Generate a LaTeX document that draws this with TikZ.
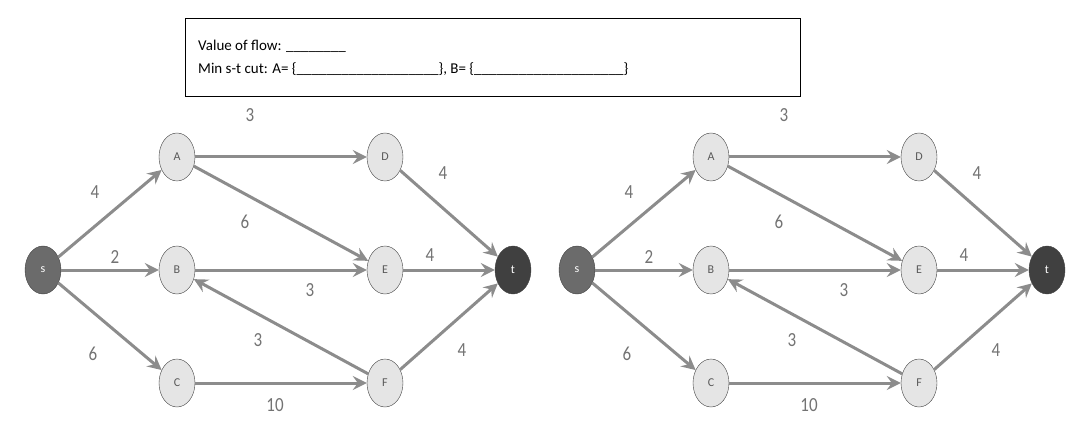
\documentclass[tikz,border=0pt]{standalone}
\usepackage{fontspec}
\setmainfont{Carlito}
\usetikzlibrary{arrows.meta,shapes.geometric}
\begin{document}
\begin{tikzpicture}[x=1pt,y=-1pt,
  nd/.style={ellipse,draw=black!75,fill=black!10,minimum width=36pt,minimum height=48pt,inner sep=0pt,font=\fontsize{12}{14}\selectfont\color{black!65}},
  src/.style={nd,fill=black!58,text=white},
  snk/.style={nd,fill=black!75,text=white},
  ed/.style={draw=black!45,line width=3pt,-{Stealth[length=14pt,width=14pt,inset=5pt]}},
  lb/.style={font=\fontsize{20}{22}\selectfont,text=black!55,xscale=0.85}]
\useasboundingbox (0,0) rectangle (1088,441);
\node[draw=black,line width=0.8pt,minimum width=615pt,minimum height=78pt,anchor=north west,inner sep=0pt] (box) at (185,18) {};
\node[anchor=west,align=left,font=\fontsize{15}{23}\selectfont,inner sep=0pt] (txt) at (198,58) {Value of flow: \_\_\_\_\_\_\_\_\\Min s-t cut: A= \{\_\_\_\_\_\_\_\_\_\_\_\_\_\_\_\_\_\_\_\}, B= \{\_\_\_\_\_\_\_\_\_\_\_\_\_\_\_\_\_\_\_\_\}};
\foreach \dx/\p in {0/l,534/r}{
\begin{scope}[xshift=\dx]
\node[src] (\p s) at (43,270) {s};
\node[nd] (\p A) at (177,157) {A};
\node[nd] (\p D) at (385,157) {D};
\node[nd] (\p B) at (177,270) {B};
\node[nd] (\p E) at (385,270) {E};
\node[nd] (\p C) at (177,383) {C};
\node[nd] (\p F) at (385,383) {F};
\node[snk] (\p t) at (513,270) {t};
\draw[ed] (\p s) -- (\p A);
\draw[ed] (\p s) -- (\p B);
\draw[ed] (\p s) -- (\p C);
\draw[ed] (\p A) -- (\p D);
\draw[ed] (\p A) -- (\p E);
\draw[ed] (\p B) -- (\p E);
\draw[ed] (\p F) -- (\p B);
\draw[ed] (\p C) -- (\p F);
\draw[ed] (\p D) -- (\p t);
\draw[ed] (\p E) -- (\p t);
\draw[ed] (\p F) -- (\p t);
\node[lb] (\p l1) at (250,115) {3};
\node[lb] (\p l2) at (443,173) {4};
\node[lb] (\p l3) at (95,192) {4};
\node[lb] (\p l4) at (245,222) {6};
\node[lb] (\p l5) at (115,257) {2};
\node[lb] (\p l6) at (430,255) {4};
\node[lb] (\p l7) at (310,290) {3};
\node[lb] (\p l8) at (258,340) {3};
\node[lb] (\p l9) at (93,354) {6};
\node[lb] (\p l10) at (462,350) {4};
\node[lb] (\p l11) at (275,405) {10};
\end{scope}}
\end{tikzpicture}
\end{document}
